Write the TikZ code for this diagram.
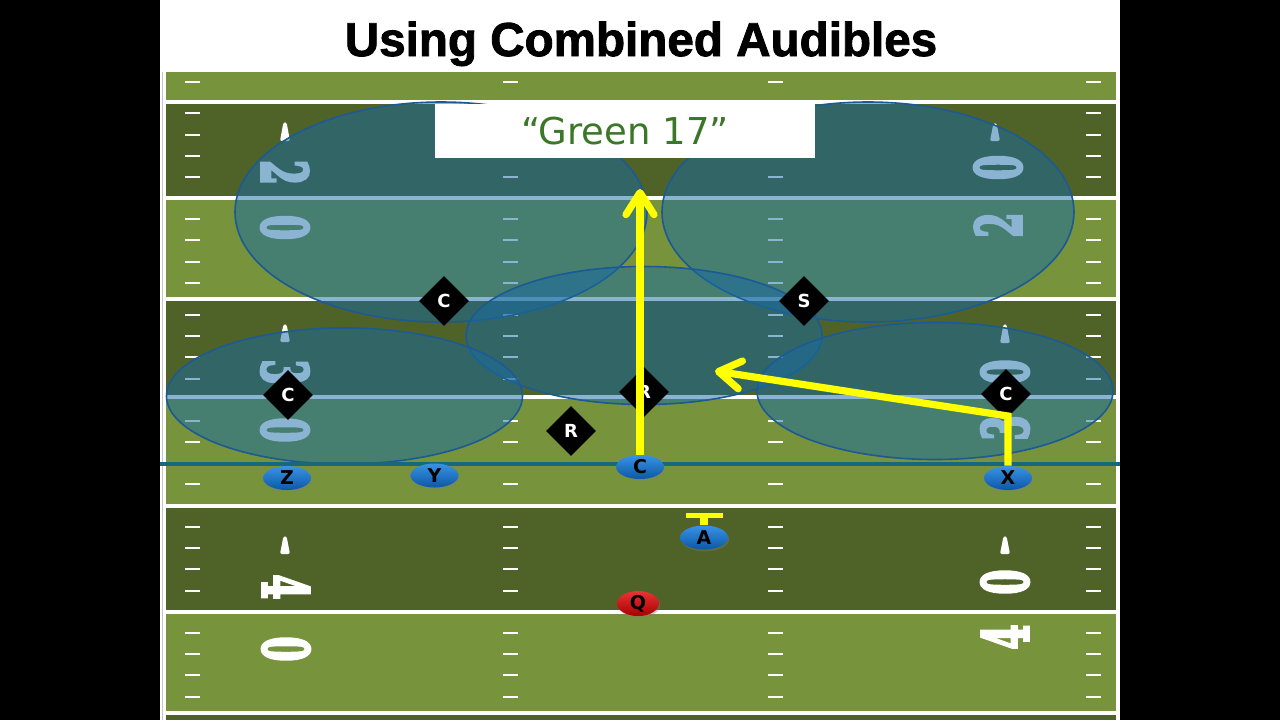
\documentclass[tikz,border=0pt]{standalone}
\usepackage{fontspec}
\setmainfont{DejaVu Sans}
\newfontfamily\titlefont{Liberation Sans}[BoldFeatures={FakeBold=1.8}]
\newfontfamily\numfont{DejaVu Serif}[BoldFeatures={FakeBold=5}]
\usetikzlibrary{shapes.geometric,arrows.meta,shadows}
\definecolor{fieldlight}{HTML}{77933C}
\definecolor{fielddark}{HTML}{4F6228}
\definecolor{zonefill}{HTML}{176AA4}
\definecolor{zoneline}{HTML}{1B5A94}
\definecolor{losline}{HTML}{17687C}
\definecolor{routeyellow}{HTML}{FFFF00}
\definecolor{callgreen}{HTML}{3A7728}
\definecolor{offtop}{HTML}{3A92E4}
\definecolor{offbot}{HTML}{0B58A6}
\definecolor{qbtop}{HTML}{E83434}
\definecolor{qbbot}{HTML}{A80000}
\begin{document}
\begin{tikzpicture}[x=0.5pt,y=-0.5pt,
  zone/.style={fill=zonefill, fill opacity=0.5, draw=zoneline, line width=0.8pt},
  yard/.style={white, line width=2pt},
  hash/.style={white, line width=1.1pt},
  fieldnum/.style={white, inner sep=0, font=\numfont\bfseries\fontsize{31.5}{31.5}\selectfont},
  lnum/.style={fieldnum, rotate=-90},
  rnum/.style={fieldnum, rotate=90},
  callbox/.style={fill=white, minimum width=190pt, minimum height=27pt, inner sep=0,
    text=callgreen, font=\fontsize{18.5}{18.5}\selectfont},
  titletext/.style={anchor=base, inner sep=0, font=\titlefont\bfseries\fontsize{23.8}{24}\selectfont},
  los/.style={losline, line width=2pt},
  defender/.style={diamond, fill=black, minimum width=25pt, minimum height=25pt, inner sep=0,
    text=white, font=\bfseries\fontsize{9}{9}\selectfont},
  offense/.style={ellipse, minimum width=24pt, minimum height=12pt, inner sep=0,
    top color=offtop, bottom color=offbot, text=black, font=\bfseries\fontsize{9.5}{9.5}\selectfont,
    drop shadow={opacity=0.35, shadow xshift=0.6pt, shadow yshift=-0.9pt}},
  qback/.style={offense, minimum width=21pt, minimum height=12.5pt, top color=qbtop, bottom color=qbbot},
  route/.style={routeyellow, line width=3.6pt},
  routetip/.style={-{Straight Barb[length=11pt, width=14pt, round]}}
]
\useasboundingbox (0,0) rectangle (1280,720);
% slide
\fill[black] (0,0) rectangle (1280,720);
\fill[white] (160,0) rectangle (1120,720);
% field bands
\fill[fieldlight] (166,72) rectangle (1116,720);
\foreach \a/\b in {102/198, 299/397, 506/612, 713/720}
  \fill[fielddark] (166,\a) rectangle (1116,\b);
\foreach \y in {102,198,299,397,506,612,713}
  \draw[yard] (166,\y) -- (1116,\y);
\draw[gray!45, line width=0.5pt] (162,72) -- (162,720);
% hash marks
\foreach \y in {82,113,135,156,177,219,240,262,283,315,336,357,379,421,442,463,484,527,548,569,591,633,654,675,697}
  \foreach \x in {185,503,768,1086}
    \draw[hash] (\x,\y) -- ++(15,0);
% field numbers, left side
\fill[white, rounded corners=1pt] (280,141) -- (283.5,122) -- (286.5,122) -- (290,141) -- cycle;
\node[lnum] (l2a) at (285,172.5) {\scalebox{0.57}[1]{2}};
\node[lnum] (l0a) at (285,227.5) {\scalebox{0.57}[1]{0}};
\fill[white, rounded corners=1pt] (280,342) -- (283.5,324) -- (286.5,324) -- (290,342) -- cycle;
\node[lnum] (l3b) at (285,372) {\scalebox{0.57}[1]{3}};
\node[lnum] (l0b) at (285,430) {\scalebox{0.57}[1]{0}};
\fill[white, rounded corners=1pt] (280,554) -- (283.5,536) -- (286.5,536) -- (290,554) -- cycle;
\node[lnum] (l4c) at (286,587) {\scalebox{0.57}[1]{4}};
\node[lnum] (l0c) at (286,649) {\scalebox{0.57}[1]{0}};
% field numbers, right side
\fill[white, rounded corners=1pt] (990,141) -- (993.5,123) -- (996.5,123) -- (1000,141) -- cycle;
\node[rnum] (r0a) at (998,167.5) {\scalebox{0.57}[1]{0}};
\node[rnum] (r2a) at (998,225) {\scalebox{0.57}[1]{2}};
\fill[white, rounded corners=1pt] (1000,343) -- (1003.5,324) -- (1006.5,324) -- (1010,343) -- cycle;
\node[rnum] (r0b) at (1005,372) {\scalebox{0.57}[1]{0}};
\node[rnum] (r3b) at (1005,428) {\scalebox{0.57}[1]{3}};
\fill[white, rounded corners=1pt] (1000,554) -- (1003.5,536) -- (1006.5,536) -- (1010,554) -- cycle;
\node[rnum] (r0c) at (1005,582) {\scalebox{0.57}[1]{0}};
\node[rnum] (r4c) at (1005,637) {\scalebox{0.57}[1]{4}};
% coverage zones
\draw[zone] (441,212) ellipse [x radius=103pt, y radius=55pt];
\draw[zone] (868,212) ellipse [x radius=103pt, y radius=55pt];
\draw[zone] (644,335.5) ellipse [x radius=89pt, y radius=34.5pt];
\draw[zone] (344.5,396) ellipse [x radius=89pt, y radius=34pt];
\draw[zone] (935,391) ellipse [x radius=89pt, y radius=34.25pt];
% call box
\node[callbox] (call) at (625,131) {“Green 17”};
% title
\node[titletext] (title) at (641,56) {Using Combined Audibles};
% line of scrimmage
\draw[los] (160,464) -- (1120,464);
% defenders
\node[defender] (dC1) at (444,301) {C};
\node[defender] (dS) at (804,301) {S};
\node[defender] (dC2) at (288,395) {C};
\node[defender] (dR1) at (644,392) {R};
\node[defender] (dR2) at (571,431) {R};
\node[defender] (dC3) at (1006,394) {C};
% offense
\node[offense] (pZ) at (287,478) {Z};
\node[offense] (pY) at (434.5,475.5) {Y};
\node[offense] (pC) at (640,467) {C};
\node[offense] (pX) at (1008,478) {X};
\node[offense] (pA) at (704,537.5) {A};
\node[qback] (pQ) at (638,603.5) {Q};
% routes
\coordinate (cTip) at (640,189);
\draw[route, routetip] (pC.north) -- (cTip);
\coordinate (xTurn) at (1008,416);
\coordinate (xTip) at (715,371);
\draw[route, routetip] (pX.north) -- (xTurn) -- (xTip);
\coordinate (aBarL) at (686,515.5);
\coordinate (aBarR) at (723,515.5);
\coordinate (aBarM) at (704,515.5);
\draw[route, line width=2.5pt] (aBarL) -- (aBarR);
\draw[route, line width=3.8pt] (aBarM) -- (pA.north);
\end{tikzpicture}
\end{document}
